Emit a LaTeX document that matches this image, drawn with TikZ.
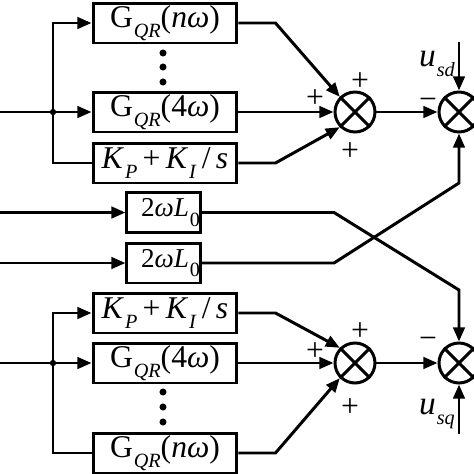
\documentclass[tikz,border=0pt]{standalone}
\usepackage{fontspec}
\setmainfont{Liberation Serif}
\usetikzlibrary{arrows.meta}
\usetikzlibrary{positioning}

\newcommand{\lsub}[1]{\hspace{0.5pt}\raisebox{-5.5pt}{\fontsize{11.5}{12}\selectfont #1}}
\newcommand{\gqr}[1]{G\lsub{\textit{QR}}(#1)}
\newcommand{\kpki}{\textit{K}\lsub{\textit{P}}\,+\,\textit{K}\lsub{\textit{I}}\,/\,\textit{s}}
\newcommand{\wlo}{\hspace{8pt}2\textit{ωL}\lsub{0}}

\begin{document}
\begin{tikzpicture}[x=0.02cm, y=-0.02cm, line width=1.7pt,
    blockbox/.style={draw, rectangle, minimum width=2.88cm, minimum height=0.8cm, inner sep=0pt,
                     font=\fontsize{18}{19}\selectfont},
    gainbox/.style={blockbox, minimum width=1.46cm, font=\fontsize{15.5}{17}\selectfont},
    sumnode/.style={draw, circle, minimum size=0.8cm, inner sep=0pt},
    sig/.style={-{Triangle[length=8pt,width=6.5pt]}},
    sign/.style={inner sep=0pt, font=\fontsize{18}{18}\selectfont},
    ulabel/.style={inner sep=0pt, font=\fontsize{19}{19}\selectfont}]
    \useasboundingbox (0,0) rectangle (474,474);

    % blocks
    \node[blockbox] (gnd) at (165, 23.0) {\gqr{\textit{nω}}};
    \node[blockbox] (g4d) at (165,112.0) {\gqr{4\textit{ω}}};
    \node[blockbox] (kpd) at (165,163.0) {\kpki};
    \node[gainbox]  (wld) at (163.5,212.5) {\wlo};
    \node[gainbox]  (wlq) at (163.5,263.0) {\wlo};
    \node[blockbox] (kpq) at (165,313.0) {\kpki};
    \node[blockbox] (g4q) at (165,363.0) {\gqr{4\textit{ω}}};
    \node[blockbox] (gnq) at (165,453.0) {\gqr{\textit{nω}}};
    \foreach \y in {53,67,82,392,407,422}
        \fill (163,\y) circle (2pt);

    % sum junctions
    \node[sumnode] (sd1) at (355,112) {};
    \node[sumnode] (sd2) at (459,112) {};
    \node[sumnode] (sq1) at (355,363) {};
    \node[sumnode] (sq2) at (459,363) {};
    \foreach \s in {sd1,sd2,sq1,sq2} {
        \draw (\s.north east) -- (\s.south west);
        \draw (\s.north west) -- (\s.south east);
    }

    % d channel
    \coordinate (ind) at (0,112);
    \coordinate (jd)  at (53,112);
    \draw[sig] (ind) -- (g4d);
    \fill (jd) circle (1.8pt);
    \draw[sig] (jd) |- (gnd);
    \draw (jd) |- (kpd);
    \draw[sig] (gnd.east) -- ++(37,0) -- (sd1.north west);
    \draw[sig] (g4d) -- (sd1);
    \draw[sig] (kpd.east) -- ++(37,0) -- (sd1.south west);
    \draw[sig] (sd1) -- (sd2);
    \coordinate (usd) at (459,42);
    \draw[sig] (usd) -- (sd2);

    % cross coupling
    \coordinate (inwd) at (0,212.5);
    \coordinate (inwq) at (0,263);
    \draw[sig] (inwd) -- (wld);
    \draw[sig] (inwq) -- (wlq);
    \draw[sig] (wld.east) -- (334,212.5) -- (459,290) -- (sq2);
    \draw[sig] (wlq.east) -- (334,263) -- (459,183) -- (sd2);

    % q channel
    \coordinate (inq) at (0,363);
    \coordinate (jq)  at (53,363);
    \draw[sig] (inq) -- (g4q);
    \fill (jq) circle (1.8pt);
    \draw[sig] (jq) |- (kpq);
    \draw (jq) |- (gnq);
    \draw[sig] (kpq.east) -- ++(37,0) -- (sq1.north west);
    \draw[sig] (g4q) -- (sq1);
    \draw[sig] (gnq.east) -- ++(37,0) -- (sq1.south west);
    \draw[sig] (sq1) -- (sq2);
    \coordinate (usq) at (459,434);
    \draw[sig] (usq) -- (sq2);

    % signs and labels
    \node[sign] at (360, 82) {+};
    \node[sign] at (315, 99) {+};
    \node[sign] at (350,152) {+};
    \node[sign] at (428,104) {−};
    \node[sign] at (360,332) {+};
    \node[sign] at (315,352) {+};
    \node[sign] at (350,408) {+};
    \node[sign] at (428,343) {−};
    \node[ulabel] (lsd) at (437, 64) {\textit{u}\lsub{\textit{sd}}};
    \node[ulabel] (lsq) at (437,414) {\textit{u}\lsub{\textit{sq}}};
\end{tikzpicture}
\end{document}
